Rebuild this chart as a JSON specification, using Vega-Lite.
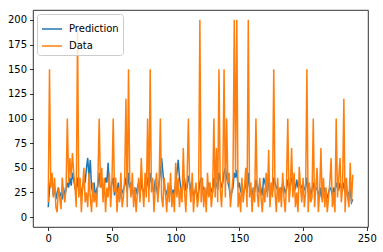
{
  "$schema": "https://vega.github.io/schema/vega-lite/v6.json",
  "width": 335,
  "height": 217,
  "autosize": {"type": "none"},
  "padding": {"left": 33, "top": 10, "right": 15, "bottom": 25},
  "background": "white",
  "config": {
    "view": {"stroke": "black", "strokeWidth": 0.8},
    "font": "DejaVu Sans",
    "axis": {"grid": false, "domain": false, "tickColor": "black", "tickSize": 3.5, "tickWidth": 0.8, "labelFontSize": 10, "labelColor": "black", "labelFont": "DejaVu Sans", "labelPadding": 3, "title": null}
  },
  "data": {"values": [
    {"i":0,"Prediction":10,"Data":15},{"i":1,"Prediction":28,"Data":150},{"i":2,"Prediction":40,"Data":30},{"i":3,"Prediction":35,"Data":45},{"i":4,"Prediction":22,"Data":20},{"i":5,"Prediction":30,"Data":40},{"i":6,"Prediction":18,"Data":10},{"i":7,"Prediction":25,"Data":5},{"i":8,"Prediction":30,"Data":30},{"i":9,"Prediction":20,"Data":20},
    {"i":10,"Prediction":25,"Data":8},{"i":11,"Prediction":18,"Data":40},{"i":12,"Prediction":30,"Data":25},{"i":13,"Prediction":22,"Data":15},{"i":14,"Prediction":28,"Data":30},{"i":15,"Prediction":35,"Data":100},{"i":16,"Prediction":30,"Data":35},{"i":17,"Prediction":40,"Data":60},{"i":18,"Prediction":32,"Data":40},{"i":19,"Prediction":45,"Data":65},
    {"i":20,"Prediction":38,"Data":45},{"i":21,"Prediction":30,"Data":30},{"i":22,"Prediction":25,"Data":10},{"i":23,"Prediction":40,"Data":190},{"i":24,"Prediction":28,"Data":20},{"i":25,"Prediction":35,"Data":40},{"i":26,"Prediction":22,"Data":5},{"i":27,"Prediction":30,"Data":30},{"i":28,"Prediction":40,"Data":50},{"i":29,"Prediction":35,"Data":15},
    {"i":30,"Prediction":50,"Data":25},{"i":31,"Prediction":60,"Data":10},{"i":32,"Prediction":40,"Data":45},{"i":33,"Prediction":58,"Data":20},{"i":34,"Prediction":30,"Data":5},{"i":35,"Prediction":25,"Data":35},{"i":36,"Prediction":35,"Data":15},{"i":37,"Prediction":20,"Data":25},{"i":38,"Prediction":28,"Data":10},{"i":39,"Prediction":32,"Data":40},
    {"i":40,"Prediction":45,"Data":100},{"i":41,"Prediction":30,"Data":30},{"i":42,"Prediction":38,"Data":50},{"i":43,"Prediction":25,"Data":15},{"i":44,"Prediction":32,"Data":40},{"i":45,"Prediction":40,"Data":5},{"i":46,"Prediction":35,"Data":30},{"i":47,"Prediction":55,"Data":20},{"i":48,"Prediction":30,"Data":45},{"i":49,"Prediction":28,"Data":10},
    {"i":50,"Prediction":35,"Data":35},{"i":51,"Prediction":40,"Data":100},{"i":52,"Prediction":22,"Data":25},{"i":53,"Prediction":30,"Data":40},{"i":54,"Prediction":25,"Data":5},{"i":55,"Prediction":35,"Data":30},{"i":56,"Prediction":18,"Data":15},{"i":57,"Prediction":30,"Data":45},{"i":58,"Prediction":25,"Data":10},{"i":59,"Prediction":28,"Data":20},
    {"i":60,"Prediction":32,"Data":40},{"i":61,"Prediction":40,"Data":120},{"i":62,"Prediction":25,"Data":10},{"i":63,"Prediction":45,"Data":150},{"i":64,"Prediction":30,"Data":35},{"i":65,"Prediction":35,"Data":20},{"i":66,"Prediction":28,"Data":45},{"i":67,"Prediction":22,"Data":10},{"i":68,"Prediction":30,"Data":30},{"i":69,"Prediction":25,"Data":5},
    {"i":70,"Prediction":30,"Data":25},{"i":71,"Prediction":35,"Data":40},{"i":72,"Prediction":20,"Data":15},{"i":73,"Prediction":38,"Data":60},{"i":74,"Prediction":28,"Data":30},{"i":75,"Prediction":25,"Data":10},{"i":76,"Prediction":32,"Data":45},{"i":77,"Prediction":30,"Data":20},{"i":78,"Prediction":40,"Data":100},{"i":79,"Prediction":28,"Data":15},
    {"i":80,"Prediction":45,"Data":150},{"i":81,"Prediction":35,"Data":25},{"i":82,"Prediction":30,"Data":40},{"i":83,"Prediction":25,"Data":5},{"i":84,"Prediction":38,"Data":30},{"i":85,"Prediction":30,"Data":45},{"i":86,"Prediction":22,"Data":15},{"i":87,"Prediction":35,"Data":35},{"i":88,"Prediction":45,"Data":100},{"i":89,"Prediction":60,"Data":20},
    {"i":90,"Prediction":45,"Data":10},{"i":91,"Prediction":30,"Data":40},{"i":92,"Prediction":28,"Data":25},{"i":93,"Prediction":22,"Data":5},{"i":94,"Prediction":30,"Data":35},{"i":95,"Prediction":25,"Data":15},{"i":96,"Prediction":32,"Data":45},{"i":97,"Prediction":20,"Data":10},{"i":98,"Prediction":28,"Data":25},{"i":99,"Prediction":22,"Data":5},
    {"i":100,"Prediction":35,"Data":55},{"i":101,"Prediction":45,"Data":20},{"i":102,"Prediction":58,"Data":40},{"i":103,"Prediction":40,"Data":10},{"i":104,"Prediction":30,"Data":30},{"i":105,"Prediction":25,"Data":15},{"i":106,"Prediction":35,"Data":70},{"i":107,"Prediction":38,"Data":25},{"i":108,"Prediction":28,"Data":5},{"i":109,"Prediction":30,"Data":40},
    {"i":110,"Prediction":42,"Data":100},{"i":111,"Prediction":35,"Data":30},{"i":112,"Prediction":28,"Data":15},{"i":113,"Prediction":30,"Data":45},{"i":114,"Prediction":22,"Data":5},{"i":115,"Prediction":25,"Data":25},{"i":116,"Prediction":30,"Data":35},{"i":117,"Prediction":18,"Data":10},{"i":118,"Prediction":25,"Data":20},{"i":119,"Prediction":35,"Data":200},
    {"i":120,"Prediction":40,"Data":15},{"i":121,"Prediction":28,"Data":40},{"i":122,"Prediction":30,"Data":10},{"i":123,"Prediction":25,"Data":30},{"i":124,"Prediction":20,"Data":5},{"i":125,"Prediction":30,"Data":45},{"i":126,"Prediction":35,"Data":20},{"i":127,"Prediction":22,"Data":35},{"i":128,"Prediction":28,"Data":10},{"i":129,"Prediction":25,"Data":25},
    {"i":130,"Prediction":40,"Data":100},{"i":131,"Prediction":30,"Data":20},{"i":132,"Prediction":35,"Data":70},{"i":133,"Prediction":28,"Data":15},{"i":134,"Prediction":45,"Data":150},{"i":135,"Prediction":38,"Data":30},{"i":136,"Prediction":30,"Data":10},{"i":137,"Prediction":35,"Data":40},{"i":138,"Prediction":45,"Data":150},{"i":139,"Prediction":50,"Data":20},
    {"i":140,"Prediction":40,"Data":100},{"i":141,"Prediction":35,"Data":35},{"i":142,"Prediction":30,"Data":45},{"i":143,"Prediction":20,"Data":10},{"i":144,"Prediction":25,"Data":25},{"i":145,"Prediction":30,"Data":40},{"i":146,"Prediction":45,"Data":200},{"i":147,"Prediction":40,"Data":45},{"i":148,"Prediction":48,"Data":200},{"i":149,"Prediction":30,"Data":10},
    {"i":150,"Prediction":35,"Data":25},{"i":151,"Prediction":25,"Data":5},{"i":152,"Prediction":30,"Data":40},{"i":153,"Prediction":22,"Data":15},{"i":154,"Prediction":28,"Data":30},{"i":155,"Prediction":35,"Data":50},{"i":156,"Prediction":25,"Data":10},{"i":157,"Prediction":45,"Data":200},{"i":158,"Prediction":30,"Data":20},{"i":159,"Prediction":28,"Data":35},
    {"i":160,"Prediction":22,"Data":5},{"i":161,"Prediction":30,"Data":30},{"i":162,"Prediction":25,"Data":15},{"i":163,"Prediction":38,"Data":100},{"i":164,"Prediction":30,"Data":25},{"i":165,"Prediction":25,"Data":10},{"i":166,"Prediction":35,"Data":40},{"i":167,"Prediction":28,"Data":20},{"i":168,"Prediction":22,"Data":5},{"i":169,"Prediction":40,"Data":30},
    {"i":170,"Prediction":35,"Data":15},{"i":171,"Prediction":30,"Data":45},{"i":172,"Prediction":25,"Data":20},{"i":173,"Prediction":35,"Data":68},{"i":174,"Prediction":28,"Data":10},{"i":175,"Prediction":30,"Data":35},{"i":176,"Prediction":25,"Data":20},{"i":177,"Prediction":40,"Data":150},{"i":178,"Prediction":35,"Data":25},{"i":179,"Prediction":30,"Data":5},
    {"i":180,"Prediction":28,"Data":40},{"i":181,"Prediction":22,"Data":15},{"i":182,"Prediction":30,"Data":30},{"i":183,"Prediction":25,"Data":10},{"i":184,"Prediction":35,"Data":45},{"i":185,"Prediction":30,"Data":20},{"i":186,"Prediction":25,"Data":5},{"i":187,"Prediction":28,"Data":35},{"i":188,"Prediction":38,"Data":100},{"i":189,"Prediction":30,"Data":15},
    {"i":190,"Prediction":35,"Data":30},{"i":191,"Prediction":40,"Data":70},{"i":192,"Prediction":30,"Data":20},{"i":193,"Prediction":35,"Data":45},{"i":194,"Prediction":28,"Data":10},{"i":195,"Prediction":38,"Data":25},{"i":196,"Prediction":30,"Data":5},{"i":197,"Prediction":35,"Data":51},{"i":198,"Prediction":32,"Data":30},{"i":199,"Prediction":30,"Data":15},
    {"i":200,"Prediction":35,"Data":40},{"i":201,"Prediction":28,"Data":10},{"i":202,"Prediction":30,"Data":25},{"i":203,"Prediction":40,"Data":150},{"i":204,"Prediction":25,"Data":5},{"i":205,"Prediction":30,"Data":35},{"i":206,"Prediction":22,"Data":15},{"i":207,"Prediction":28,"Data":20},{"i":208,"Prediction":35,"Data":100},{"i":209,"Prediction":25,"Data":10},
    {"i":210,"Prediction":30,"Data":30},{"i":211,"Prediction":28,"Data":50},{"i":212,"Prediction":25,"Data":5},{"i":213,"Prediction":20,"Data":25},{"i":214,"Prediction":30,"Data":70},{"i":215,"Prediction":18,"Data":15},{"i":216,"Prediction":25,"Data":40},{"i":217,"Prediction":30,"Data":10},{"i":218,"Prediction":22,"Data":30},{"i":219,"Prediction":20,"Data":5},
    {"i":220,"Prediction":25,"Data":20},{"i":221,"Prediction":30,"Data":35},{"i":222,"Prediction":28,"Data":60},{"i":223,"Prediction":22,"Data":10},{"i":224,"Prediction":30,"Data":25},{"i":225,"Prediction":25,"Data":5},{"i":226,"Prediction":35,"Data":100},{"i":227,"Prediction":30,"Data":20},{"i":228,"Prediction":28,"Data":40},{"i":229,"Prediction":35,"Data":60},
    {"i":230,"Prediction":30,"Data":15},{"i":231,"Prediction":28,"Data":30},{"i":232,"Prediction":35,"Data":120},{"i":233,"Prediction":25,"Data":5},{"i":234,"Prediction":30,"Data":40},{"i":235,"Prediction":20,"Data":20},{"i":236,"Prediction":25,"Data":10},{"i":237,"Prediction":28,"Data":55},{"i":238,"Prediction":15,"Data":15},{"i":239,"Prediction":18,"Data":43}
  ]},
  "transform": [{"fold": ["Prediction", "Data"], "as": ["series", "value"]}],
  "mark": {"type": "line", "strokeWidth": 1.5, "clip": true},
  "encoding": {
    "x": {"field": "i", "type": "quantitative", "scale": {"domain": [-11.95, 250.95], "nice": false, "zero": false}, "axis": {"values": [0, 50, 100, 150, 200, 250]}},
    "y": {"field": "value", "type": "quantitative", "scale": {"domain": [-10, 210], "nice": false, "zero": false}, "axis": {"values": [0, 25, 50, 75, 100, 125, 150, 175, 200]}},
    "color": {
      "field": "series", "type": "nominal",
      "scale": {"domain": ["Prediction", "Data"], "range": ["#1f77b4", "#ff7f0e"]},
      "legend": {"orient": "top-left", "title": null, "offset": 4, "padding": 4, "strokeColor": "#cccccc", "fillColor": "rgba(255,255,255,0.8)", "cornerRadius": 3, "symbolType": "stroke", "symbolSize": 400, "symbolStrokeWidth": 1.5, "labelFontSize": 10, "labelFont": "DejaVu Sans", "labelColor": "black", "rowPadding": 1, "labelOffset": 6}
    }
  }
}
